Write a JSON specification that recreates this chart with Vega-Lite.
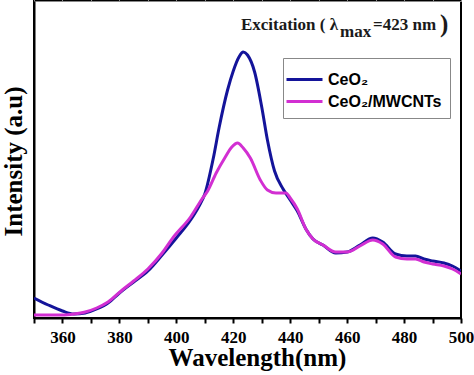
{
  "$schema": "https://vega.github.io/schema/vega-lite/v6.json",
  "width": 427,
  "height": 317,
  "autosize": {"type": "none"},
  "padding": {"left": 34, "top": 1, "right": 13, "bottom": 57},
  "background": "white",
  "config": {
    "view": {"stroke": "black", "strokeWidth": 2},
    "axis": {"grid": false}
  },
  "resolve": {"axis": {"x": "independent"}},
  "layer": [
    {
      "data": {"values": [
        {"wl": 350, "v": 20, "s": "CeO₂"}, {"wl": 355, "v": 13, "s": "CeO₂"}, {"wl": 360, "v": 7, "s": "CeO₂"}, {"wl": 364, "v": 4, "s": "CeO₂"}, {"wl": 368, "v": 5, "s": "CeO₂"}, {"wl": 372, "v": 9, "s": "CeO₂"}, {"wl": 376, "v": 15, "s": "CeO₂"}, {"wl": 380, "v": 25, "s": "CeO₂"}, {"wl": 385, "v": 36, "s": "CeO₂"}, {"wl": 390, "v": 47, "s": "CeO₂"}, {"wl": 395, "v": 63, "s": "CeO₂"}, {"wl": 400, "v": 80, "s": "CeO₂"}, {"wl": 405, "v": 98, "s": "CeO₂"}, {"wl": 408, "v": 112, "s": "CeO₂"}, {"wl": 410, "v": 124, "s": "CeO₂"}, {"wl": 413, "v": 160, "s": "CeO₂"}, {"wl": 415, "v": 190, "s": "CeO₂"}, {"wl": 418, "v": 228, "s": "CeO₂"}, {"wl": 420, "v": 247, "s": "CeO₂"}, {"wl": 422, "v": 261, "s": "CeO₂"}, {"wl": 423.5, "v": 266, "s": "CeO₂"}, {"wl": 425, "v": 263, "s": "CeO₂"}, {"wl": 427.5, "v": 246, "s": "CeO₂"}, {"wl": 430, "v": 211, "s": "CeO₂"}, {"wl": 432, "v": 178, "s": "CeO₂"}, {"wl": 434.5, "v": 147, "s": "CeO₂"}, {"wl": 437.5, "v": 129, "s": "CeO₂"}, {"wl": 440, "v": 118, "s": "CeO₂"}, {"wl": 442.5, "v": 107, "s": "CeO₂"}, {"wl": 445.5, "v": 89, "s": "CeO₂"}, {"wl": 448, "v": 79, "s": "CeO₂"}, {"wl": 451.5, "v": 73, "s": "CeO₂"}, {"wl": 456, "v": 65, "s": "CeO₂"}, {"wl": 460, "v": 66, "s": "CeO₂"}, {"wl": 464.5, "v": 73, "s": "CeO₂"}, {"wl": 469, "v": 80, "s": "CeO₂"}, {"wl": 472.5, "v": 76, "s": "CeO₂"}, {"wl": 477, "v": 64, "s": "CeO₂"}, {"wl": 481, "v": 62, "s": "CeO₂"}, {"wl": 484, "v": 62, "s": "CeO₂"}, {"wl": 487, "v": 59, "s": "CeO₂"}, {"wl": 490, "v": 57, "s": "CeO₂"}, {"wl": 494, "v": 55, "s": "CeO₂"}, {"wl": 497, "v": 52, "s": "CeO₂"}, {"wl": 500, "v": 47, "s": "CeO₂"},
        {"wl": 350, "v": 3, "s": "CeO₂/MWCNTs"}, {"wl": 355, "v": 3, "s": "CeO₂/MWCNTs"}, {"wl": 360, "v": 3, "s": "CeO₂/MWCNTs"}, {"wl": 364, "v": 4, "s": "CeO₂/MWCNTs"}, {"wl": 368, "v": 6, "s": "CeO₂/MWCNTs"}, {"wl": 372, "v": 10, "s": "CeO₂/MWCNTs"}, {"wl": 376, "v": 16, "s": "CeO₂/MWCNTs"}, {"wl": 381, "v": 28, "s": "CeO₂/MWCNTs"}, {"wl": 385, "v": 37, "s": "CeO₂/MWCNTs"}, {"wl": 390, "v": 49, "s": "CeO₂/MWCNTs"}, {"wl": 395, "v": 65, "s": "CeO₂/MWCNTs"}, {"wl": 399, "v": 81, "s": "CeO₂/MWCNTs"}, {"wl": 405, "v": 101, "s": "CeO₂/MWCNTs"}, {"wl": 409, "v": 119, "s": "CeO₂/MWCNTs"}, {"wl": 411, "v": 127, "s": "CeO₂/MWCNTs"}, {"wl": 414, "v": 145, "s": "CeO₂/MWCNTs"}, {"wl": 417, "v": 160, "s": "CeO₂/MWCNTs"}, {"wl": 419.5, "v": 171, "s": "CeO₂/MWCNTs"}, {"wl": 421.5, "v": 175, "s": "CeO₂/MWCNTs"}, {"wl": 423.5, "v": 170, "s": "CeO₂/MWCNTs"}, {"wl": 426, "v": 160, "s": "CeO₂/MWCNTs"}, {"wl": 429.5, "v": 138, "s": "CeO₂/MWCNTs"}, {"wl": 432, "v": 128, "s": "CeO₂/MWCNTs"}, {"wl": 435, "v": 125, "s": "CeO₂/MWCNTs"}, {"wl": 438.5, "v": 125, "s": "CeO₂/MWCNTs"}, {"wl": 440, "v": 120, "s": "CeO₂/MWCNTs"}, {"wl": 442.5, "v": 109, "s": "CeO₂/MWCNTs"}, {"wl": 445.5, "v": 89, "s": "CeO₂/MWCNTs"}, {"wl": 448, "v": 79, "s": "CeO₂/MWCNTs"}, {"wl": 451.5, "v": 73, "s": "CeO₂/MWCNTs"}, {"wl": 456, "v": 66, "s": "CeO₂/MWCNTs"}, {"wl": 460, "v": 66, "s": "CeO₂/MWCNTs"}, {"wl": 464.5, "v": 72, "s": "CeO₂/MWCNTs"}, {"wl": 469, "v": 78, "s": "CeO₂/MWCNTs"}, {"wl": 472.5, "v": 74, "s": "CeO₂/MWCNTs"}, {"wl": 477, "v": 61, "s": "CeO₂/MWCNTs"}, {"wl": 481, "v": 59, "s": "CeO₂/MWCNTs"}, {"wl": 484, "v": 59, "s": "CeO₂/MWCNTs"}, {"wl": 487, "v": 56, "s": "CeO₂/MWCNTs"}, {"wl": 490, "v": 54, "s": "CeO₂/MWCNTs"}, {"wl": 494, "v": 52, "s": "CeO₂/MWCNTs"}, {"wl": 497, "v": 49, "s": "CeO₂/MWCNTs"}, {"wl": 500, "v": 44, "s": "CeO₂/MWCNTs"}
      ]},
      "mark": {"type": "line", "interpolate": "monotone", "strokeWidth": 3, "clip": true},
      "encoding": {
        "x": {
          "field": "wl", "type": "quantitative",
          "scale": {"domain": [350, 500], "nice": false, "zero": false},
          "axis": {
            "orient": "bottom",
            "values": [360, 380, 400, 420, 440, 460, 480, 500],
            "domainColor": "black", "domainWidth": 2,
            "tickColor": "black", "tickWidth": 2, "tickSize": 5,
            "labelFont": "Liberation Serif", "labelFontWeight": "bold", "labelFontSize": 17,
            "labelColor": "black", "labelPadding": 6, "labelFlush": false, "labelOverlap": false,
            "title": "Wavelength(nm)",
            "titleFont": "Liberation Serif", "titleFontWeight": "bold", "titleFontSize": 25,
            "titleColor": "black", "titleX": 223, "titleY": 47, "titleBaseline": "alphabetic"
          }
        },
        "y": {
          "field": "v", "type": "quantitative",
          "scale": {"domain": [0, 317], "nice": false},
          "axis": {
            "labels": false, "ticks": false,
            "domainColor": "black", "domainWidth": 2,
            "title": "Intensity (a.u)",
            "titleFont": "Liberation Serif", "titleFontWeight": "bold", "titleFontSize": 25,
            "titleColor": "black", "titleX": -21, "titleY": 160, "titleAngle": -90, "titleBaseline": "middle"
          }
        },
        "color": {
          "field": "s", "type": "nominal",
          "scale": {"domain": ["CeO₂", "CeO₂/MWCNTs"], "range": ["#14149a", "#d22fd2"]},
          "legend": {
            "title": null, "orient": "none", "legendX": 249, "legendY": 57,
            "symbolType": "M-1.5,0H1.5", "symbolSize": 576, "symbolStrokeWidth": 3,
            "labelFont": "Liberation Sans", "labelFontWeight": "bold", "labelFontSize": 16,
            "labelColor": "black", "labelOffset": 10,
            "strokeColor": "#888888", "fillColor": "white", "padding": 8, "rowPadding": 0
          }
        }
      }
    },
    {
      "data": {"values": [{"t": "Excitation ( λ"}]},
      "mark": {"type": "text", "align": "right", "baseline": "alphabetic", "font": "Liberation Serif", "fontWeight": "bold", "fontSize": 17, "color": "#1a1a1a"},
      "encoding": {
        "x": {"datum": 456.8, "axis": {
          "orient": "bottom", "offset": 0,
          "values": [350, 370, 390, 410, 430, 450, 470, 490],
          "labels": false, "domain": false, "title": null,
          "tickColor": "black", "tickWidth": 2, "tickSize": 5
        }},
        "y": {"datum": 288},
        "text": {"field": "t"}
      }
    },
    {
      "data": {"values": [{"t": "max"}]},
      "mark": {"type": "text", "align": "left", "baseline": "alphabetic", "font": "Liberation Serif", "fontWeight": "bold", "fontSize": 17, "color": "#1a1a1a"},
      "encoding": {"x": {"datum": 457.5}, "y": {"datum": 281}, "text": {"field": "t"}}
    },
    {
      "data": {"values": [{"t": "=423 nm"}]},
      "mark": {"type": "text", "align": "left", "baseline": "alphabetic", "font": "Liberation Serif", "fontWeight": "bold", "fontSize": 17, "color": "#1a1a1a"},
      "encoding": {"x": {"datum": 469.1}, "y": {"datum": 288}, "text": {"field": "t"}}
    },
    {
      "data": {"values": [{"t": ")"}]},
      "mark": {"type": "text", "align": "left", "baseline": "alphabetic", "font": "Liberation Serif", "fontWeight": "bold", "fontSize": 25, "color": "#1a1a1a"},
      "encoding": {"x": {"datum": 492.6}, "y": {"datum": 286}, "text": {"field": "t"}}
    }
  ]
}
